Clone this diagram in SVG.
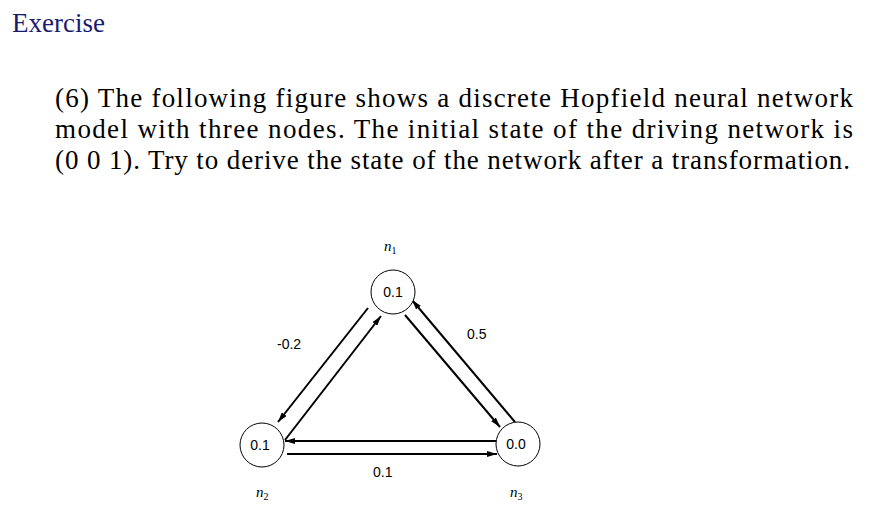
<svg xmlns="http://www.w3.org/2000/svg" width="880" height="532" viewBox="0 0 880 532">
<style>
.t{font-family:"Liberation Serif",serif;fill:#000}
.h{font-family:"Liberation Serif",serif;fill:#1a1a6e;font-size:27px}
.c{fill:#fff;stroke:#000;stroke-width:1}
.l{stroke:#000;stroke-width:2;fill:none;marker-end:url(#a)}
.s{font-family:"Liberation Sans",sans-serif;font-size:14px}
.i{font-family:"Liberation Serif",serif;font-style:italic;font-size:15px}
</style>
<defs><marker id="a" viewBox="0 0 10 6" refX="10" refY="3" markerWidth="10" markerHeight="6" markerUnits="userSpaceOnUse" orient="auto"><path d="M0,0L10,3L0,6z"/></marker></defs>
<rect width="880" height="532" fill="#fff"/>
<text class="h" x="12" y="32">Exercise</text>
<g class="t" font-size="27">
<text x="55" y="107" textLength="798" lengthAdjust="spacing">(6) The following figure shows a discrete Hopfield neural network</text>
<text x="55" y="138" textLength="798" lengthAdjust="spacing">model with three nodes. The initial state of the driving network is</text>
<text x="55" y="169" textLength="795" lengthAdjust="spacing">(0 0 1). Try to derive the state of the network after a transformation.</text>
</g>
<g id="connectors">
<line class="l" x1="368" y1="308" x2="278" y2="422"/>
<line class="l" x1="285" y1="440" x2="381" y2="316"/>
<line class="l" x1="405" y1="315" x2="500" y2="427"/>
<line class="l" x1="515" y1="422" x2="412" y2="300"/>
<line class="l" x1="497" y1="441" x2="285" y2="441"/>
<line class="l" x1="287" y1="454" x2="497" y2="454"/>
<text class="s" x="277" y="349">-0.2</text>
<text class="s" x="467" y="339">0.5</text>
<text class="s" x="373" y="477">0.1</text>
</g>
<g id="n1"><circle class="c" cx="393" cy="292" r="22"/><text class="s" x="393" y="297" text-anchor="middle">0.1</text><text class="i" x="384" y="251">n<tspan font-size="10" font-style="normal" dy="3">1</tspan></text></g>
<g id="n2"><circle class="c" cx="262" cy="445" r="22"/><text class="s" x="260" y="450" text-anchor="middle">0.1</text><text class="i" x="256" y="497">n<tspan font-size="10" font-style="normal" dy="3">2</tspan></text></g>
<g id="n3"><circle class="c" cx="518" cy="444" r="22"/><text class="s" x="516" y="449" text-anchor="middle">0.0</text><text class="i" x="510" y="497">n<tspan font-size="10" font-style="normal" dy="3">3</tspan></text></g>
</svg>
